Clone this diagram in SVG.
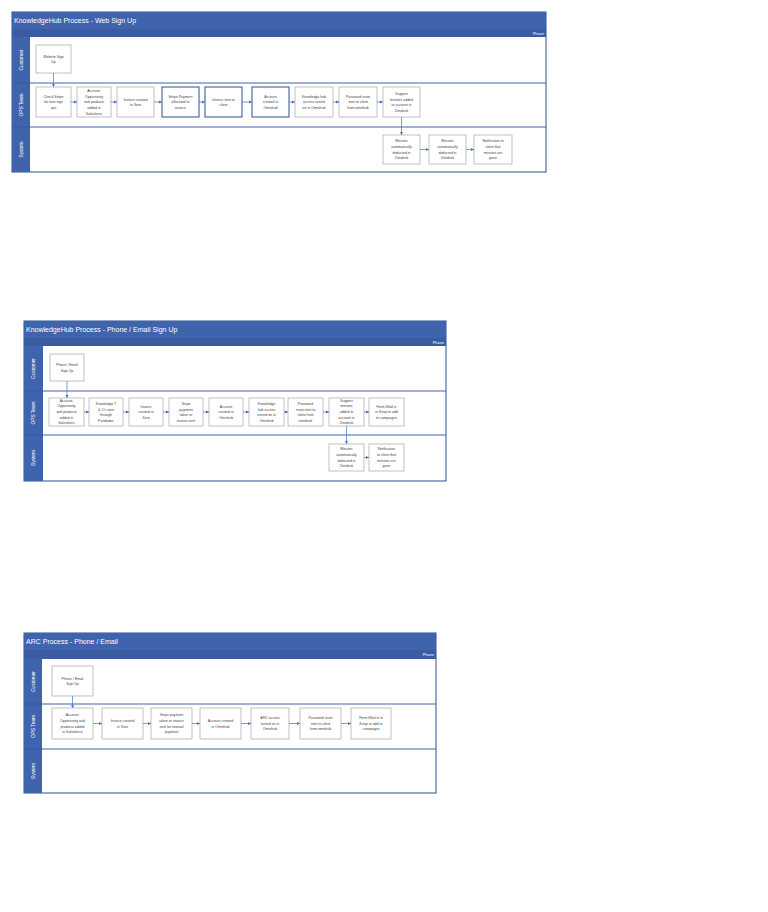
<svg xmlns="http://www.w3.org/2000/svg" width="768" height="912" viewBox="0 0 768 912">
<style>
.frame{fill:#ffffff;stroke:#2f4f8f;stroke-width:1}
.title{fill:#3f63ac}
.phase{fill:#3a5ca3}
.col{fill:#3f63ac}
.lane{stroke:#3f63ac;stroke-width:1}
.coll{stroke:#34579a;stroke-width:0.6}
.ttl{font-family:"Liberation Sans",Arial,sans-serif;font-size:7px;fill:#ffffff}
.ph{font-family:"Liberation Sans",Arial,sans-serif;font-size:4px;fill:#ffffff;text-anchor:end}
.ln{font-family:"Liberation Sans",Arial,sans-serif;font-size:4.8px;fill:#ffffff;text-anchor:middle}
.box{fill:#ffffff;stroke:#a6a6a6;stroke-width:0.7}
.dbox{fill:#ffffff;stroke:#2f4f8f;stroke-width:1}
.bt{font-family:"Liberation Sans",Arial,sans-serif;font-size:3.5px;fill:#404040;text-anchor:middle}
.arr{stroke:#4472c4;stroke-width:0.7;fill:none;marker-end:url(#ah)}
</style>
<defs>
<marker id="ah" markerUnits="userSpaceOnUse" markerWidth="4" markerHeight="4" refX="3.5" refY="1.75" orient="auto">
<path d="M0,0 L3.5,1.75 L0,3.5 z" fill="#4472c4"/>
</marker>
</defs>
<rect width="768" height="912" fill="#ffffff"/>

<!-- ============ Diagram 1 ============ -->
<g id="pool1">
<rect class="frame" x="12" y="12" width="534" height="160"/>
<rect class="title" x="12" y="12" width="534" height="17"/>
<rect class="phase" x="12" y="29" width="534" height="8"/>
<rect class="col" x="12" y="37" width="18" height="135"/>
<line class="lane" x1="30" y1="83" x2="546" y2="83"/>
<line class="lane" x1="30" y1="127" x2="546" y2="127"/>
<line class="coll" x1="12" y1="83" x2="30" y2="83"/>
<line class="coll" x1="12" y1="127" x2="30" y2="127"/>
<text class="ttl" x="14" y="23.3">KnowledgeHub Process - Web Sign Up</text>
<text class="ph" x="544" y="34.8">Phase</text>
<text class="ln" transform="translate(22.7,60) rotate(-90)">Customer</text>
<text class="ln" transform="translate(22.7,105) rotate(-90)">OPS Team</text>
<text class="ln" transform="translate(22.7,149.5) rotate(-90)">System</text>
</g>
<g id="d1n0"><rect class="box" x="36" y="45" width="35" height="28"/><text class="bt"><tspan x="53.5" y="57.5">Website Sign</tspan><tspan x="53.5" y="63.1">Up</tspan></text></g>
<g id="d1n1"><rect class="box" x="36" y="87" width="35" height="30"/><text class="bt"><tspan x="53.5" y="97.7">Check Stripe</tspan><tspan x="53.5" y="103.3">for new sign</tspan><tspan x="53.5" y="108.9">ups</tspan></text></g>
<g id="d1n2"><rect class="box" x="77" y="87" width="34" height="30"/><text class="bt"><tspan x="94" y="92.1">Account,</tspan><tspan x="94" y="97.7">Opportunity</tspan><tspan x="94" y="103.3">and products</tspan><tspan x="94" y="108.9">added in</tspan><tspan x="94" y="114.5">Salesforce</tspan></text></g>
<g id="d1n3"><rect class="box" x="117" y="87" width="37" height="30"/><text class="bt"><tspan x="135.5" y="100.5">Invoice created</tspan><tspan x="135.5" y="106.1">in Xero</tspan></text></g>
<g id="d1n4"><rect class="dbox" x="162" y="87" width="37" height="30"/><text class="bt"><tspan x="180.5" y="97.7">Stripe Payment</tspan><tspan x="180.5" y="103.3">allocated to</tspan><tspan x="180.5" y="108.9">invoice</tspan></text></g>
<g id="d1n5"><rect class="dbox" x="205" y="87" width="37" height="30"/><text class="bt"><tspan x="223.5" y="100.5">Invoice sent to</tspan><tspan x="223.5" y="106.1">client</tspan></text></g>
<g id="d1n6"><rect class="dbox" x="252" y="87" width="37" height="30"/><text class="bt"><tspan x="270.5" y="97.7">Account</tspan><tspan x="270.5" y="103.3">created in</tspan><tspan x="270.5" y="108.9">Omnihub</tspan></text></g>
<g id="d1n7"><rect class="box" x="295" y="87" width="38" height="30"/><text class="bt"><tspan x="314" y="97.7">Knowledge hub</tspan><tspan x="314" y="103.3">access turned</tspan><tspan x="314" y="108.9">on in Omnihub</tspan></text></g>
<g id="d1n8"><rect class="box" x="339" y="87" width="38" height="30"/><text class="bt"><tspan x="358" y="97.7">Password reset</tspan><tspan x="358" y="103.3">sent to client</tspan><tspan x="358" y="108.9">from omnihub</tspan></text></g>
<g id="d1n9"><rect class="box" x="383" y="87" width="37" height="30"/><text class="bt"><tspan x="401.5" y="94.9">Support</tspan><tspan x="401.5" y="100.5">minutes added</tspan><tspan x="401.5" y="106.1">to account in</tspan><tspan x="401.5" y="111.7">Zendesk</tspan></text></g>
<g id="d1n10"><rect class="box" x="383" y="135" width="37" height="29"/><text class="bt"><tspan x="401.5" y="142.4">Minutes</tspan><tspan x="401.5" y="148">automatically</tspan><tspan x="401.5" y="153.6">deducted in</tspan><tspan x="401.5" y="159.2">Zendesk</tspan></text></g>
<g id="d1n11"><rect class="box" x="429" y="135" width="37" height="29"/><text class="bt"><tspan x="447.5" y="142.4">Minutes</tspan><tspan x="447.5" y="148">automatically</tspan><tspan x="447.5" y="153.6">deducted in</tspan><tspan x="447.5" y="159.2">Zendesk</tspan></text></g>
<g id="d1n12"><rect class="box" x="474" y="135" width="38" height="29"/><text class="bt"><tspan x="493" y="142.4">Notification to</tspan><tspan x="493" y="148">client that</tspan><tspan x="493" y="153.6">minutes are</tspan><tspan x="493" y="159.2">gone</tspan></text></g>

<!-- ============ Diagram 2 ============ -->
<g id="pool2">
<rect class="frame" x="24" y="321" width="422" height="160"/>
<rect class="title" x="24" y="321" width="422" height="17"/>
<rect class="phase" x="24" y="338" width="422" height="8"/>
<rect class="col" x="24" y="346" width="19" height="135"/>
<line class="lane" x1="43" y1="391" x2="446" y2="391"/>
<line class="lane" x1="43" y1="435" x2="446" y2="435"/>
<line class="coll" x1="24" y1="391" x2="43" y2="391"/>
<line class="coll" x1="24" y1="435" x2="43" y2="435"/>
<text class="ttl" x="26" y="332.2">KnowledgeHub Process - Phone / Email Sign Up</text>
<text class="ph" x="444" y="343.7">Phase</text>
<text class="ln" transform="translate(35.2,368.5) rotate(-90)">Customer</text>
<text class="ln" transform="translate(35.2,413) rotate(-90)">OPS Team</text>
<text class="ln" transform="translate(35.2,458) rotate(-90)">System</text>
</g>
<g id="d2n0"><rect class="box" x="50" y="354" width="34" height="27"/><text class="bt"><tspan x="67" y="366">Phone / Email</tspan><tspan x="67" y="371.6">Sign Up</tspan></text></g>
<g id="d2n1"><rect class="box" x="49" y="398" width="35" height="28"/><text class="bt"><tspan x="66.5" y="401.5">Account,</tspan><tspan x="66.5" y="407.2">Opportunity</tspan><tspan x="66.5" y="412.9">and products</tspan><tspan x="66.5" y="418.6">added in</tspan><tspan x="66.5" y="424.3">Salesforce</tspan></text></g>
<g id="d2n2"><rect class="box" x="89" y="398" width="34" height="28"/><text class="bt"><tspan x="106" y="404.9">Knowledge T</tspan><tspan x="106" y="410.5">&amp; C's sent</tspan><tspan x="106" y="416.1">through</tspan><tspan x="106" y="421.7">Pandadoc</tspan></text></g>
<g id="d2n3"><rect class="box" x="129" y="398" width="34" height="28"/><text class="bt"><tspan x="146" y="407.7">Invoice</tspan><tspan x="146" y="413.3">created in</tspan><tspan x="146" y="418.9">Xero</tspan></text></g>
<g id="d2n4"><rect class="box" x="169" y="398" width="34" height="28"/><text class="bt"><tspan x="186" y="404.9">Stripe</tspan><tspan x="186" y="410.5">payment</tspan><tspan x="186" y="416.1">taken or</tspan><tspan x="186" y="421.7">invoice sent</tspan></text></g>
<g id="d2n5"><rect class="box" x="209" y="398" width="34" height="28"/><text class="bt"><tspan x="226" y="407.7">Account</tspan><tspan x="226" y="413.3">created in</tspan><tspan x="226" y="418.9">Omnihub</tspan></text></g>
<g id="d2n6"><rect class="box" x="249" y="398" width="35" height="28"/><text class="bt"><tspan x="266.5" y="404.9">Knowledge</tspan><tspan x="266.5" y="410.5">hub access</tspan><tspan x="266.5" y="416.1">turned on in</tspan><tspan x="266.5" y="421.7">Omnihub</tspan></text></g>
<g id="d2n7"><rect class="box" x="288" y="398" width="35" height="28"/><text class="bt"><tspan x="305.5" y="404.9">Password</tspan><tspan x="305.5" y="410.5">reset sent to</tspan><tspan x="305.5" y="416.1">client from</tspan><tspan x="305.5" y="421.7">omnihub</tspan></text></g>
<g id="d2n8"><rect class="box" x="329" y="398" width="35" height="28"/><text class="bt"><tspan x="346.5" y="401.5">Support</tspan><tspan x="346.5" y="407.2">minutes</tspan><tspan x="346.5" y="412.9">added to</tspan><tspan x="346.5" y="418.6">account in</tspan><tspan x="346.5" y="424.3">Zendesk</tspan></text></g>
<g id="d2n9"><rect class="box" x="369" y="398" width="35" height="28"/><text class="bt"><tspan x="386.5" y="407.7">Form filled in</tspan><tspan x="386.5" y="413.3">in Keap to add</tspan><tspan x="386.5" y="418.9">to campaigns</tspan></text></g>
<g id="d2n10"><rect class="box" x="329" y="444" width="35" height="27"/><text class="bt"><tspan x="346.5" y="450.4">Minutes</tspan><tspan x="346.5" y="456">automatically</tspan><tspan x="346.5" y="461.6">deducted in</tspan><tspan x="346.5" y="467.2">Zendesk</tspan></text></g>
<g id="d2n11"><rect class="box" x="369" y="444" width="35" height="27"/><text class="bt"><tspan x="386.5" y="450.4">Notification</tspan><tspan x="386.5" y="456">to client that</tspan><tspan x="386.5" y="461.6">minutes are</tspan><tspan x="386.5" y="467.2">gone</tspan></text></g>

<!-- ============ Diagram 3 ============ -->
<g id="pool3">
<rect class="frame" x="24" y="633" width="412" height="160"/>
<rect class="title" x="24" y="633" width="412" height="17"/>
<rect class="phase" x="24" y="650" width="412" height="9"/>
<rect class="col" x="24" y="659" width="18" height="134"/>
<line class="lane" x1="42" y1="704" x2="436" y2="704"/>
<line class="lane" x1="42" y1="749" x2="436" y2="749"/>
<line class="coll" x1="24" y1="704" x2="42" y2="704"/>
<line class="coll" x1="24" y1="749" x2="42" y2="749"/>
<text class="ttl" x="26" y="644.4">ARC Process - Phone / Email</text>
<text class="ph" x="434" y="656.4">Phase</text>
<text class="ln" transform="translate(34.7,681.5) rotate(-90)">Customer</text>
<text class="ln" transform="translate(34.7,726.5) rotate(-90)">OPS Team</text>
<text class="ln" transform="translate(34.7,771) rotate(-90)">System</text>
</g>
<g id="d3n0"><rect class="box" x="52" y="666" width="41" height="30"/><text class="bt"><tspan x="72.5" y="679.5">Phone / Email</tspan><tspan x="72.5" y="685.1">Sign Up</tspan></text></g>
<g id="d3n1"><rect class="box" x="52" y="708" width="41" height="31"/><text class="bt"><tspan x="72.5" y="716.4">Account,</tspan><tspan x="72.5" y="722">Opportunity and</tspan><tspan x="72.5" y="727.6">products added</tspan><tspan x="72.5" y="733.2">in Salesforce</tspan></text></g>
<g id="d3n2"><rect class="box" x="102" y="708" width="41" height="31"/><text class="bt"><tspan x="122.5" y="722">Invoice created</tspan><tspan x="122.5" y="727.6">in Xero</tspan></text></g>
<g id="d3n3"><rect class="box" x="151" y="708" width="41" height="31"/><text class="bt"><tspan x="171.5" y="716.4">Stripe payment</tspan><tspan x="171.5" y="722">taken or invoice</tspan><tspan x="171.5" y="727.6">sent for manual</tspan><tspan x="171.5" y="733.2">payment</tspan></text></g>
<g id="d3n4"><rect class="box" x="200" y="708" width="41" height="31"/><text class="bt"><tspan x="220.5" y="722">Account created</tspan><tspan x="220.5" y="727.6">in Omnihub</tspan></text></g>
<g id="d3n5"><rect class="box" x="251" y="708" width="38" height="31"/><text class="bt"><tspan x="270" y="719.2">ARC access</tspan><tspan x="270" y="724.8">turned on in</tspan><tspan x="270" y="730.4">Omnihub</tspan></text></g>
<g id="d3n6"><rect class="box" x="300" y="708" width="41" height="31"/><text class="bt"><tspan x="320.5" y="719.2">Password reset</tspan><tspan x="320.5" y="724.8">sent to client</tspan><tspan x="320.5" y="730.4">from omnihub</tspan></text></g>
<g id="d3n7"><rect class="box" x="351" y="708" width="40" height="31"/><text class="bt"><tspan x="371" y="719.2">Form filled in in</tspan><tspan x="371" y="724.8">Keap to add to</tspan><tspan x="371" y="730.4">campaigns</tspan></text></g>

<!-- ============ Connectors ============ -->
<g id="connectors">
<line class="arr" x1="53.5" y1="73" x2="53.5" y2="87"/>
<line class="arr" x1="71" y1="102" x2="77" y2="102"/>
<line class="arr" x1="111" y1="102" x2="117" y2="102"/>
<line class="arr" x1="154" y1="102" x2="162" y2="102"/>
<line class="arr" x1="199" y1="102" x2="205" y2="102"/>
<line class="arr" x1="242" y1="102" x2="252" y2="102"/>
<line class="arr" x1="289" y1="102" x2="295" y2="102"/>
<line class="arr" x1="333" y1="102" x2="339" y2="102"/>
<line class="arr" x1="377" y1="102" x2="383" y2="102"/>
<line class="arr" x1="401.5" y1="117" x2="401.5" y2="135"/>
<line class="arr" x1="420" y1="149.5" x2="429" y2="149.5"/>
<line class="arr" x1="466" y1="149.5" x2="474" y2="149.5"/>

<line class="arr" x1="67" y1="381" x2="67" y2="398"/>
<line class="arr" x1="84" y1="412" x2="89" y2="412"/>
<line class="arr" x1="123" y1="412" x2="129" y2="412"/>
<line class="arr" x1="163" y1="412" x2="169" y2="412"/>
<line class="arr" x1="203" y1="412" x2="209" y2="412"/>
<line class="arr" x1="243" y1="412" x2="249" y2="412"/>
<line class="arr" x1="284" y1="412" x2="288" y2="412"/>
<line class="arr" x1="323" y1="412" x2="329" y2="412"/>
<line class="arr" x1="364" y1="412" x2="369" y2="412"/>
<line class="arr" x1="346.5" y1="426" x2="346.5" y2="444"/>
<line class="arr" x1="364" y1="457.5" x2="369" y2="457.5"/>

<line class="arr" x1="72.5" y1="696" x2="72.5" y2="708"/>
<line class="arr" x1="93" y1="723.5" x2="102" y2="723.5"/>
<line class="arr" x1="143" y1="723.5" x2="151" y2="723.5"/>
<line class="arr" x1="192" y1="723.5" x2="200" y2="723.5"/>
<line class="arr" x1="241" y1="723.5" x2="251" y2="723.5"/>
<line class="arr" x1="289" y1="723.5" x2="300" y2="723.5"/>
<line class="arr" x1="341" y1="723.5" x2="351" y2="723.5"/>
</g>
</svg>
